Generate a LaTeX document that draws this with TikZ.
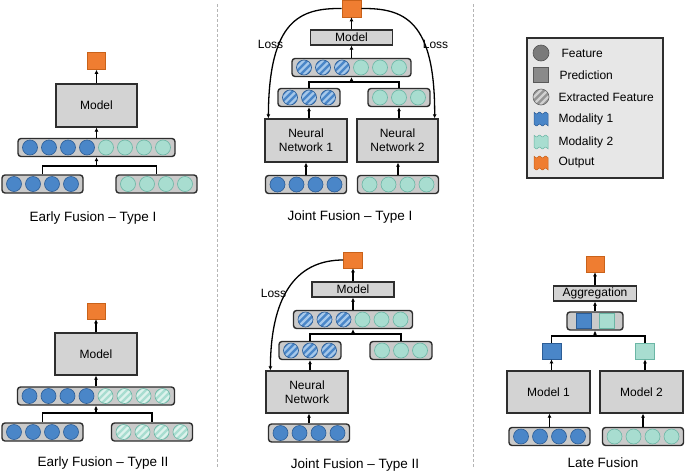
\documentclass[tikz,border=0pt]{standalone}
\usepackage{fontspec}
\setmainfont{Liberation Sans}
\usetikzlibrary{arrows.meta}

\definecolor{blueF}{HTML}{4A86C8}
\definecolor{blueD}{HTML}{2C5D96}
\definecolor{blueL}{HTML}{A6C8EA}
\definecolor{tealF}{HTML}{A8DDD0}
\definecolor{tealD}{HTML}{6BB6A5}
\definecolor{tealL}{HTML}{DDF2EC}
\definecolor{orangeF}{HTML}{EF7D31}
\definecolor{orangeD}{HTML}{C9621A}
\definecolor{boxF}{HTML}{D3D3D3}
\definecolor{boxD}{HTML}{2E2E2E}
\definecolor{rowF}{HTML}{CACACA}
\definecolor{legF}{HTML}{E7E7E7}
\definecolor{sepC}{HTML}{B5B5B5}

\tikzset{
  x=1pt, y=-1pt,
  box/.style={draw=boxD, fill=boxF, line width=1.3pt, inner sep=0pt,
    font=\fontsize{12}{14}\selectfont, align=center},
  rowbox/.style={draw=boxD, fill=rowF, rounded corners=3pt, line width=1.4pt,
    minimum height=18pt, inner sep=0pt},
  feat/.style={circle, minimum size=15pt, inner sep=0pt, line width=0.6pt},
  stripes/.style={path picture={
    \foreach \d in {-21,-14,-7,0,7,14,21}{
      \draw[line width=2.2pt, #1]
        ([xshift={(\d-10)*1pt}, yshift=-10pt]path picture bounding box.center) --
        ([xshift={(\d+10)*1pt}, yshift=10pt]path picture bounding box.center);}}},
  fB/.style={fill=blueF, draw=blueD},
  fT/.style={fill=tealF, draw=tealD},
  fHB/.style={fill=blueF, draw=blueD, stripes=blueL},
  fHT/.style={fill=tealF, draw=tealD, stripes=tealL},
  ftype/.code={\edef\tmpk{f#1}\expandafter\pgfkeysalso\expandafter{\tmpk}},
  outsq/.style={draw=orangeD, fill=orangeF, minimum width=18pt, minimum height=17pt,
    inner sep=0pt, line width=0.6pt},
  sqB/.style={draw=blueD, fill=blueF, inner sep=0pt, line width=0.8pt},
  sqT/.style={draw=tealD, fill=tealF, inner sep=0pt, line width=0.8pt},
  arr/.style={line width=1.3pt, -{Latex[length=4pt,width=4pt]}},
  conn/.style={line width=1.3pt},
  title/.style={font=\fontsize{13.5}{16}\selectfont},
  small/.style={font=\fontsize{12}{14}\selectfont},
  sepline/.style={draw=sepC, line width=0.8pt, dash pattern=on 3pt off 2pt},
}

\newcommand{\featrow}[5]{%
  \node[rowbox, minimum width={#4*19+5}] (#1) at (#2,#3) {};
  \foreach \t [count=\i] in {#5} {
    \pgfmathsetmacro{\xx}{#2+(\i-(#4+1)/2)*19}
    \node[feat, ftype=\t] (#1-\i) at (\xx,#3) {};
  }%
}
\newcommand{\wavysw}[4]{%
  \filldraw[fill=#3, draw=#4, line width=0.5pt]
    plot[domain=-7:7, samples=25, smooth] ({#1+\x},{#2-6+0.9*sin(\x*60)}) --
    plot[domain=7:-7, samples=25, smooth] ({#1+\x},{#2+6+0.9*sin(\x*60)}) -- cycle;
}

\begin{document}
\begin{tikzpicture}
\useasboundingbox[fill=white] (0,0) rectangle (685,472);

% separators
\draw[sepline] (217,4) -- (217,468);
\draw[sepline] (473,4) -- (473,468);

% ===== Early Fusion - Type I =====
\node[outsq] (out1) at (96.5,61) {};
\node[box, minimum width=81pt, minimum height=43pt] (model1) at (96.5,105.5) {Model};
\featrow{c1}{96.5}{147.5}{8}{B,B,B,B,T,T,T,T}
\featrow{l1}{42.5}{184}{4}{B,B,B,B}
\featrow{r1}{156.5}{184}{4}{T,T,T,T}
\coordinate (j1) at (96.5,166);
\draw[conn] (l1.north) |- (j1) -| (r1.north);
\draw[arr] (j1) -- (c1.south);
\draw[arr] (c1.north) -- (model1.south);
\draw[arr] (model1.north) -- (out1.south);
\node[title] (t1) at (93,218) {Early Fusion \textendash{} Type I};

% ===== Early Fusion - Type II =====
\node[outsq, minimum height=16pt] (out2) at (96,311) {};
\node[box, minimum width=82pt, minimum height=42pt] (model2) at (96,354) {Model};
\featrow{c2}{96}{396}{8}{B,B,B,B,HT,HT,HT,HT}
\featrow{l2}{42.5}{432}{4}{B,B,B,B}
\featrow{r2}{152}{432}{4}{HT,HT,HT,HT}
\coordinate (j2) at (96,413);
\draw[conn] (l2.north) |- (j2) -| (r2.north);
\draw[arr] (j2) -- (c2.south);
\draw[arr] (c2.north) -- (model2.south);
\draw[arr] (model2.north) -- (out2.south);
\node[title] (t2) at (103,463) {Early Fusion \textendash{} Type II};

% ===== Joint Fusion - Type I =====
\node[outsq, minimum width=19pt] (out3) at (351.5,8.5) {};
\node[box, minimum width=82pt, minimum height=15pt] (model3) at (351.5,37.5) {Model};
\featrow{c3}{351.5}{67.5}{6}{HB,HB,HB,T,T,T}
\featrow{l3}{309}{97.5}{3}{HB,HB,HB}
\featrow{r3}{399}{97.5}{3}{T,T,T}
\node[box, minimum width=82pt, minimum height=43pt] (nn1) at (306,140.5) {Neural\\Network 1};
\node[box, minimum width=81pt, minimum height=43pt] (nn2) at (397.5,140.5) {Neural\\Network 2};
\featrow{b3l}{306}{184.5}{4}{B,B,B,B}
\featrow{b3r}{398}{184.5}{4}{T,T,T,T}
\coordinate (j3) at (351.5,82);
\draw[conn] (l3.north) |- (j3) -| (r3.north);
\draw[arr] (j3) -- (c3.south);
\draw[arr] (c3.north) -- (model3.south);
\draw[arr] (model3.north) -- (out3.south);
\draw[arr] (b3l.north) -- (nn1.south);
\draw[arr] (b3r.north) -- (b3r.north |- nn2.south);
\draw[arr] (l3.south |- nn1.north) -- (l3.south);
\draw[arr] (r3.south |- nn2.north) -- (r3.south);
\draw[arr] (out3.west) .. controls (300,8) and (269,20) .. ([xshift=4pt]nn1.north west);
\draw[arr] (out3.east) .. controls (404,8) and (435,20) .. ([xshift=-4pt]nn2.north east);
\node[small] (loss1) at (270.5,44) {Loss};
\node[small] (loss2) at (435.5,44) {Loss};
\node[title] (t3) at (350,217) {Joint Fusion \textendash{} Type I};

% ===== Joint Fusion - Type II =====
\node[outsq, minimum width=19pt, minimum height=16pt] (out4) at (353,260) {};
\node[box, minimum width=82pt, minimum height=15pt] (model4) at (353,289.5) {Model};
\featrow{c4}{353}{319.5}{6}{HB,HB,HB,T,T,T}
\featrow{l4}{310}{350.5}{3}{HB,HB,HB}
\featrow{r4}{401}{350.5}{3}{T,T,T}
\node[box, minimum width=82pt, minimum height=42pt] (nn3) at (307,392) {Neural\\Network};
\featrow{b4}{309}{433}{4}{B,B,B,B}
\coordinate (j4) at (353,334);
\draw[conn] (l4.north) |- (j4) -| (r4.north);
\draw[arr] (j4) -- (c4.south);
\draw[arr] (c4.north) -- (model4.south);
\draw[arr] (model4.north) -- (out4.south);
\draw[arr] (b4.north) -- (b4.north |- nn3.south);
\draw[arr] (l4.south |- nn3.north) -- (l4.south);
\draw[arr] (out4.west) .. controls (300,260) and (271,290) .. ([xshift=5pt]nn3.north west);
\node[small] (loss3) at (273.5,293) {Loss};
\node[title] (t4) at (355,465) {Joint Fusion \textendash{} Type II};

% ===== Late Fusion =====
\node[outsq, minimum height=16pt] (out5) at (595,264) {};
\node[box, minimum width=83pt, minimum height=15pt] (agg) at (595,293.5) {Aggregation};
\node[rowbox, minimum width=56pt] (pr) at (595,321) {};
\node[sqB, minimum width=15pt, minimum height=15pt] (prb) at (583.5,321) {};
\node[sqT, minimum width=15pt, minimum height=15pt] (prt) at (606.5,321) {};
\node[sqB, minimum width=19pt, minimum height=16pt] (sb) at (551.5,351) {};
\node[sqT, minimum width=19pt, minimum height=16pt] (st) at (645,351) {};
\node[box, minimum width=83pt, minimum height=42pt] (m1) at (548.5,392) {Model 1};
\node[box, minimum width=83pt, minimum height=42pt] (m2) at (641.5,392) {Model 2};
\featrow{b5l}{549.5}{436.5}{4}{B,B,B,B}
\featrow{b5r}{643}{436.5}{4}{T,T,T,T}
\coordinate (j5) at (595,336);
\draw[conn] (sb.north) |- (j5) -| (st.north);
\draw[arr] (j5) -- (pr.south);
\draw[arr] (pr.north) -- (agg.south);
\draw[arr] (agg.north) -- (out5.south);
\draw[arr] (b5l.north) -- (b5l.north |- m1.south);
\draw[arr] (b5r.north) -- (b5r.north |- m2.south);
\draw[arr] (sb.south |- m1.north) -- (sb.south);
\draw[arr] (st.south |- m2.north) -- (st.south);
\node[title] (t5) at (603,463) {Late Fusion};

% ===== Legend =====
\node[draw=boxD, fill=legF, line width=1.3pt, minimum width=136pt, minimum height=140pt, inner sep=0pt] (leg) at (595,108) {};
\node[circle, minimum size=16pt, inner sep=0pt, fill=black!52, draw=black!68, line width=0.6pt] (lgf) at (541,53) {};
\node[minimum size=15pt, inner sep=0pt, fill=black!46, draw=black!65, line width=0.6pt] (lgp) at (541,75) {};
\node[circle, minimum size=16pt, inner sep=0pt, fill=black!42, draw=black!60, line width=0.6pt, stripes=black!18] (lge) at (541,97) {};
\wavysw{541}{119}{blueF}{blueD}
\wavysw{541}{142}{tealF}{tealD}
\wavysw{541}{163}{orangeF}{orangeD}
\node[small, anchor=west] (lt1) at (558,53) {Feature};
\node[small, anchor=west] (lt2) at (556,75) {Prediction};
\node[small, anchor=west] (lt3) at (555,97) {Extracted Feature};
\node[small, anchor=west] (lt4) at (555,119) {Modality 1};
\node[small, anchor=west] (lt5) at (555,142) {Modality 2};
\node[small, anchor=west] (lt6) at (555,163) {Output};
\end{tikzpicture}
\end{document}
